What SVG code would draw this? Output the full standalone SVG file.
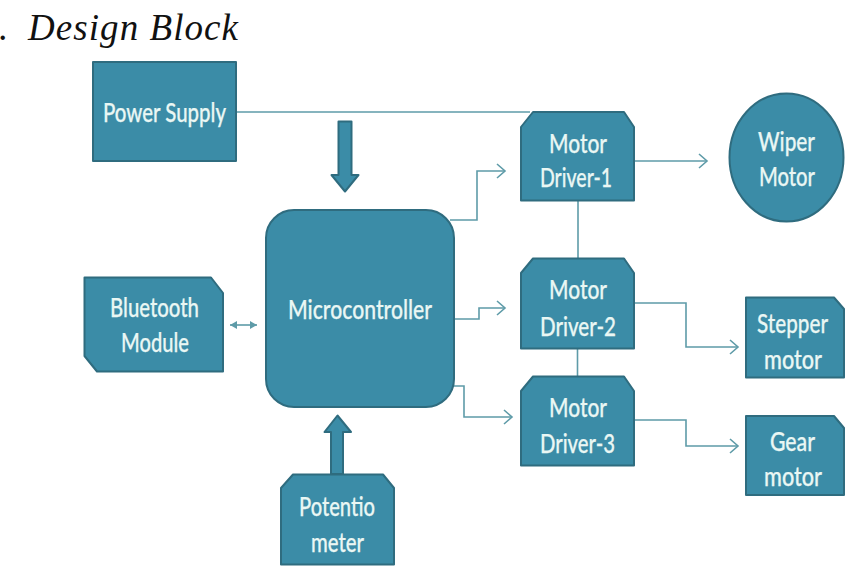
<svg xmlns="http://www.w3.org/2000/svg" width="849" height="575" viewBox="0 0 849 575">
<style>
.n{fill:#3b8ca7;stroke:#2f6c7f;stroke-width:2;stroke-linejoin:round}
.t{font-family:"Lato","Liberation Sans",sans-serif;font-size:26.500px;font-weight:500;fill:#eaf7f4;stroke:#eaf7f4;stroke-width:.25}
.c{fill:none;stroke:#5e9ba8;stroke-width:1.600}
.title{font-family:"Liberation Serif",serif;font-style:italic;font-size:37px;fill:#111}
</style>
<defs>
<marker id="a" markerUnits="userSpaceOnUse" markerWidth="14" markerHeight="20" refX="11" refY="10" orient="auto-start-reverse">
<path d="M3 3L11 10L3 17" fill="none" stroke="#5e9ba8" stroke-width="1.600"/>
</marker>
<marker id="b" markerUnits="userSpaceOnUse" markerWidth="10" markerHeight="12" refX="8" refY="6" orient="auto-start-reverse">
<path d="M1 2L8 6L1 10Z" fill="#5e9ba8"/>
</marker>
</defs>
<text class="title" x="-1" y="40">.</text>
<text class="title" x="28" y="40" textLength="210">Design Block</text>
<g id="connectors">
<path class="c" d="M236 112H530"/>
<path class="c" d="M634 161H707" marker-end="url(#a)"/>
<path class="c" d="M450 220H477V171H505" marker-end="url(#a)"/>
<path class="c" d="M455 319H479V308H505" marker-end="url(#a)"/>
<path class="c" d="M453 386H464V417H512" marker-end="url(#a)"/>
<path class="c" d="M578 201V258"/>
<path class="c" d="M577.500 349V376"/>
<path class="c" d="M634 303H686V347H738" marker-end="url(#a)"/>
<path class="c" d="M634 420H686V446H738" marker-end="url(#a)"/>
<path class="c" d="M230 325H257" marker-start="url(#b)" marker-end="url(#b)"/>
</g>
<g id="arrow-power"><path class="n" d="M338.500 121.500H351.500V175H358.500L345 191.500L331.500 175H338.500Z"/></g>
<g id="arrow-pot"><path class="n" d="M331 474V432H324.500L337.500 415.500L351 432H343V474Z"/></g>
<g id="power-supply"><rect class="n" x="93" y="62" width="143" height="99"/>
<text class="t" x="103" y="122" textLength="123" lengthAdjust="spacingAndGlyphs">Power Supply</text></g>
<g id="motor-driver-1"><path class="n" d="M533 112H624L634 127V200.500H521V127Z"/>
<text class="t" x="549" y="153" textLength="58" lengthAdjust="spacingAndGlyphs">Motor</text>
<text class="t" x="540" y="187" textLength="72" lengthAdjust="spacingAndGlyphs">Driver-1</text></g>
<g id="motor-driver-2"><path class="n" d="M533 258.500H624L634 273V348.500H521V273Z"/>
<text class="t" x="549" y="299" textLength="58" lengthAdjust="spacingAndGlyphs">Motor</text>
<text class="t" x="540" y="336" textLength="76" lengthAdjust="spacingAndGlyphs">Driver-2</text></g>
<g id="motor-driver-3"><path class="n" d="M533 376.500H624L634 391V465.500H521V391Z"/>
<text class="t" x="549" y="417" textLength="58" lengthAdjust="spacingAndGlyphs">Motor</text>
<text class="t" x="540" y="453" textLength="75" lengthAdjust="spacingAndGlyphs">Driver-3</text></g>
<g id="wiper-motor"><ellipse class="n" cx="786.500" cy="157.500" rx="57" ry="64"/>
<text class="t" x="758" y="151" textLength="57" lengthAdjust="spacingAndGlyphs">Wiper</text>
<text class="t" x="759" y="186" textLength="56" lengthAdjust="spacingAndGlyphs">Motor</text></g>
<g id="stepper-motor"><path class="n" d="M746 297.500H834L844 309V377.500H746Z"/>
<text class="t" x="757" y="333" textLength="71" lengthAdjust="spacingAndGlyphs">Stepper</text>
<text class="t" x="764" y="369" textLength="58" lengthAdjust="spacingAndGlyphs">motor</text></g>
<g id="gear-motor"><path class="n" d="M746 416H834L844 428V495H746Z"/>
<text class="t" x="770" y="451" textLength="45" lengthAdjust="spacingAndGlyphs">Gear</text>
<text class="t" x="764" y="486" textLength="58" lengthAdjust="spacingAndGlyphs">motor</text></g>
<g id="microcontroller"><rect class="n" x="266" y="210" width="188" height="197" rx="28" ry="28"/>
<text class="t" x="288" y="319" textLength="144" lengthAdjust="spacingAndGlyphs">Microcontroller</text></g>
<g id="bluetooth-module"><path class="n" d="M84.500 277.500H211L223 293V371.500H97L84.500 356Z"/>
<text class="t" x="110" y="317" textLength="89" lengthAdjust="spacingAndGlyphs">Bluetooth</text>
<text class="t" x="121" y="352" textLength="68" lengthAdjust="spacingAndGlyphs">Module</text></g>
<g id="potentiometer"><path class="n" d="M293 474.500H383L394 488V564.500H281V488Z"/>
<text class="t" x="299" y="516" textLength="76" lengthAdjust="spacingAndGlyphs">Potentio</text>
<text class="t" x="311" y="552" textLength="53" lengthAdjust="spacingAndGlyphs">meter</text></g>
</svg>
